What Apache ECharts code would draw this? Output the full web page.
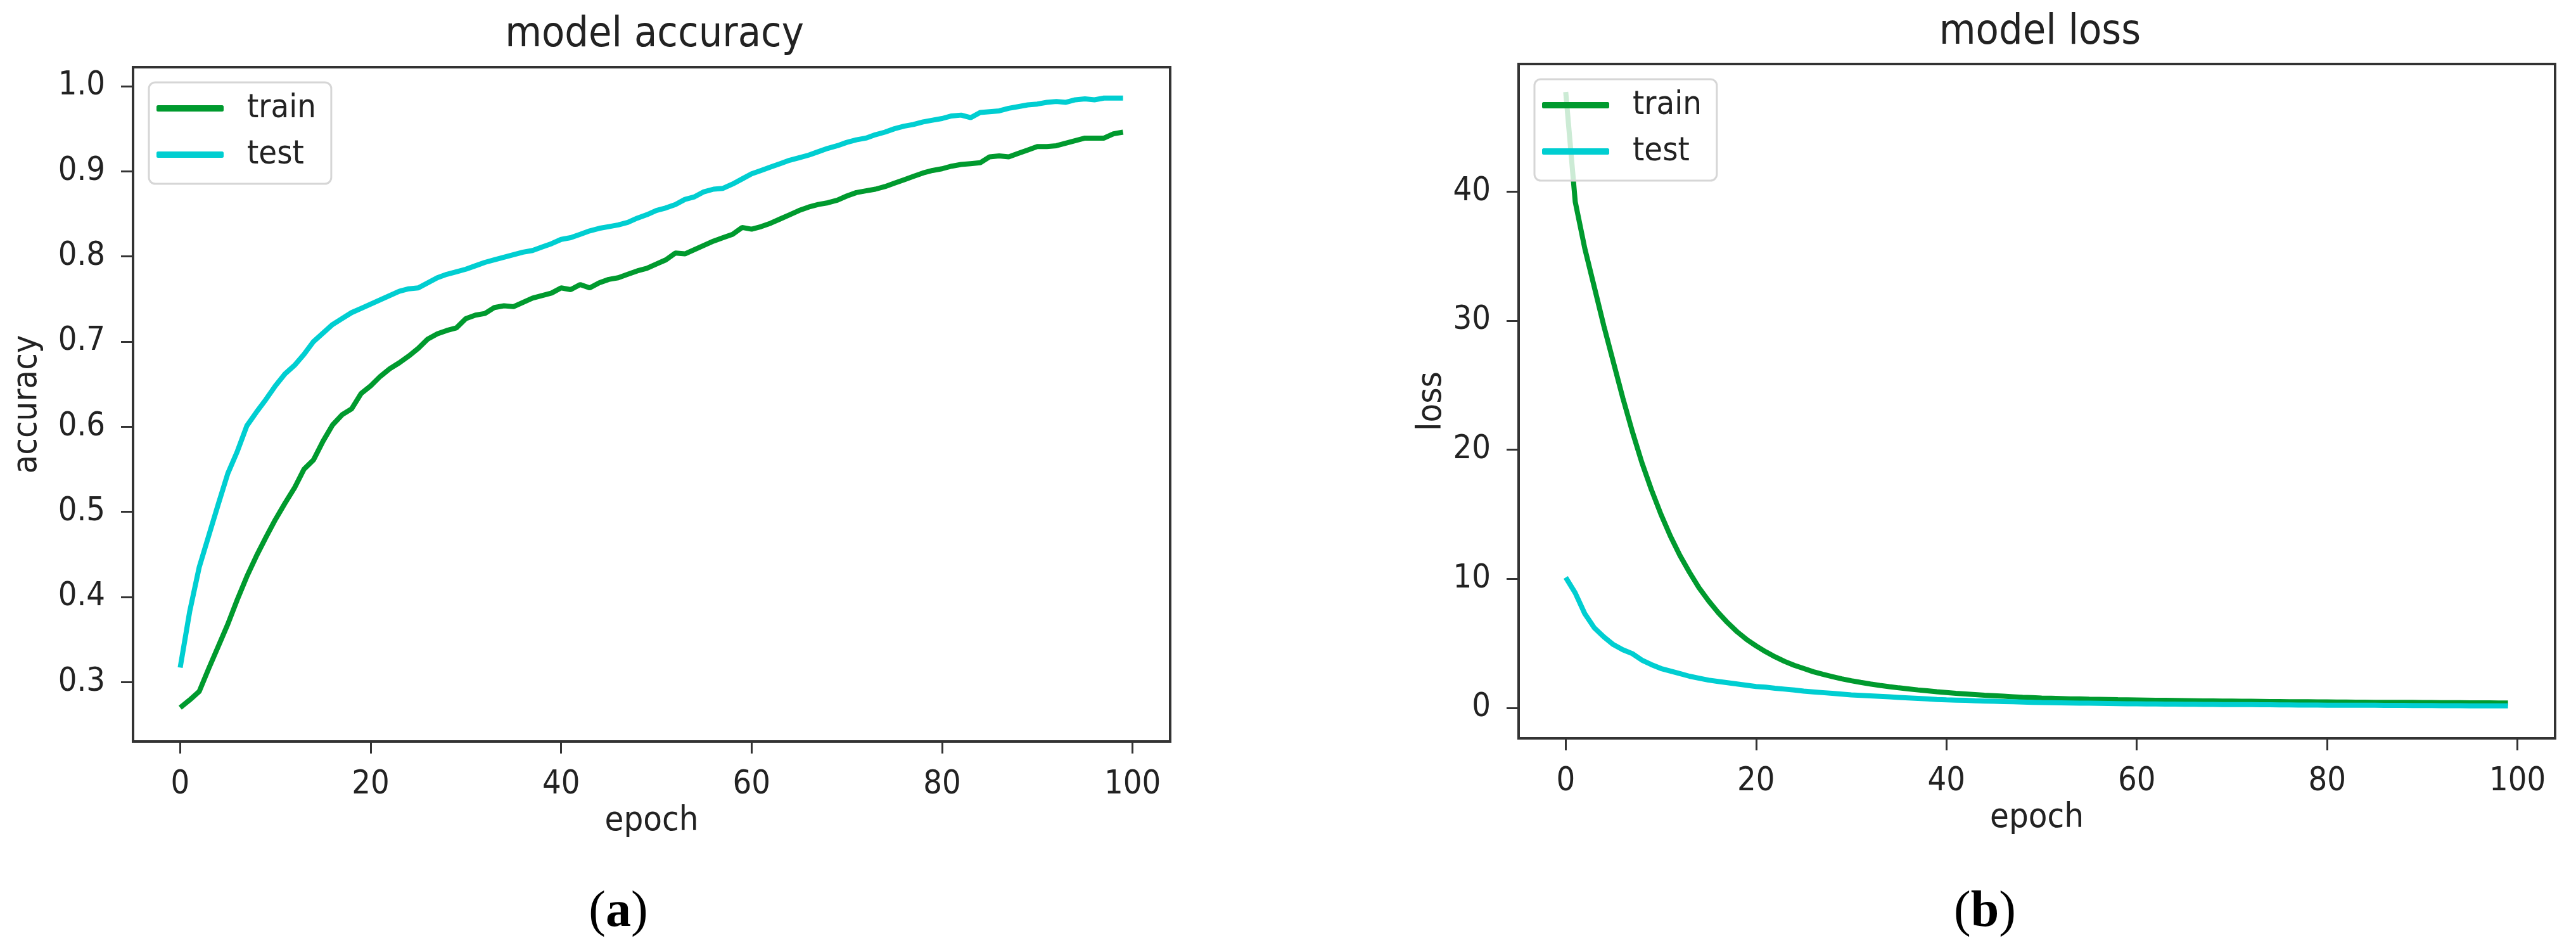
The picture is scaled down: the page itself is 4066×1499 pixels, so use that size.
<!DOCTYPE html>
<html>
<head>
<meta charset="utf-8">
<script src="https://cdn.jsdelivr.net/npm/echarts@6/dist/echarts.min.js"></script>
<style>
html,body{margin:0;padding:0;background:#fff;}
#c{width:4066px;height:1499px;}
</style>
</head>
<body>
<div id="c"></div>
<script>
// ---- data ----
const xTicks = [0, 20, 40, 60, 80, 100];
const accTicks = [0.3, 0.4, 0.5, 0.6, 0.7, 0.8, 0.9, 1.0];
const lossTicks = [0, 10, 20, 30, 40];

const accTrain = [
0.270,0.279,0.289,0.316,0.342,0.368,0.397,0.424,0.448,0.470,
0.491,0.510,0.528,0.550,0.561,0.583,0.602,0.614,0.621,0.639,
0.648,0.659,0.668,0.675,0.683,0.692,0.703,0.709,0.713,0.716,
0.727,0.731,0.733,0.740,0.742,0.741,0.746,0.751,0.754,0.757,
0.763,0.761,0.767,0.763,0.769,0.773,0.775,0.779,0.783,0.786,
0.791,0.796,0.804,0.803,0.808,0.813,0.818,0.822,0.826,0.834,
0.832,0.835,0.839,0.844,0.849,0.854,0.858,0.861,0.863,0.866,
0.871,0.875,0.877,0.879,0.882,0.886,0.890,0.894,0.898,0.901,
0.903,0.906,0.908,0.909,0.910,0.917,0.918,0.917,0.921,0.925,
0.929,0.929,0.930,0.933,0.936,0.939,0.939,0.939,0.944,0.946];

const accTest = [
0.317,0.383,0.435,0.472,0.509,0.545,0.571,0.601,0.617,0.632,
0.648,0.662,0.672,0.685,0.700,0.710,0.720,0.727,0.734,0.739,
0.744,0.749,0.754,0.759,0.762,0.763,0.769,0.775,0.779,0.782,
0.785,0.789,0.793,0.796,0.799,0.802,0.805,0.807,0.811,0.815,
0.820,0.822,0.826,0.830,0.833,0.835,0.837,0.840,0.845,0.849,
0.854,0.857,0.861,0.867,0.870,0.876,0.879,0.880,0.885,0.891,
0.897,0.901,0.905,0.909,0.913,0.916,0.919,0.923,0.927,0.930,
0.934,0.937,0.939,0.943,0.946,0.950,0.953,0.955,0.958,0.960,
0.962,0.965,0.966,0.963,0.969,0.970,0.971,0.974,0.976,0.978,
0.979,0.981,0.982,0.981,0.984,0.985,0.984,0.986,0.986,0.986];

const lossTrain = [
47.7,39.2,35.6,32.6,29.6,26.8,24.0,21.4,19.0,16.9,
15.0,13.3,11.8,10.5,9.3,8.3,7.4,6.6,5.9,5.3,
4.8,4.35,3.95,3.6,3.3,3.05,2.8,2.6,2.42,2.25,
2.1,1.97,1.85,1.74,1.64,1.55,1.47,1.39,1.32,1.25,
1.19,1.13,1.08,1.03,0.98,0.94,0.90,0.86,0.82,0.79,
0.76,0.74,0.72,0.70,0.69,0.67,0.66,0.65,0.63,0.62,
0.61,0.60,0.59,0.58,0.57,0.56,0.55,0.54,0.54,0.53,
0.52,0.51,0.51,0.50,0.49,0.49,0.48,0.47,0.47,0.46,
0.46,0.45,0.45,0.44,0.44,0.43,0.43,0.42,0.42,0.42,
0.41,0.41,0.40,0.40,0.40,0.39,0.39,0.39,0.38,0.38];

const lossTest = [
10.1,8.9,7.3,6.2,5.5,4.9,4.5,4.2,3.7,3.35,
3.05,2.85,2.65,2.45,2.3,2.15,2.05,1.95,1.85,1.75,
1.65,1.6,1.52,1.45,1.38,1.3,1.24,1.18,1.12,1.06,
1.0,0.97,0.93,0.89,0.85,0.81,0.77,0.73,0.69,0.65,
0.62,0.60,0.58,0.55,0.53,0.51,0.49,0.47,0.45,0.43,
0.41,0.40,0.39,0.38,0.37,0.36,0.35,0.34,0.33,0.32,
0.31,0.30,0.30,0.29,0.29,0.28,0.28,0.27,0.27,0.26,
0.26,0.25,0.25,0.24,0.24,0.23,0.23,0.22,0.22,0.22,
0.21,0.21,0.21,0.20,0.20,0.20,0.19,0.19,0.19,0.18,
0.18,0.18,0.17,0.17,0.17,0.16,0.16,0.16,0.15,0.15];

// ---- styling ----
const FONT = 'DejaVu Sans Condensed, DejaVu Sans, sans-serif';
const TXT = '#222';
const GREEN = '#009a2e';
const CYAN = '#00ced1';
const toPts = arr => arr.map((v, i) => [i, v]);

function xAxisFor(gi) {
  return {
    type: 'value', gridIndex: gi, min: -4.95, max: 103.95,
    axisLine: {show: false, onZero: false},
    splitLine: {show: false},
    axisTick: {show: true, length: 19, customValues: xTicks, lineStyle: {color: '#333', width: 3}},
    axisLabel: {customValues: xTicks, margin: 42, fontSize: 52, fontFamily: FONT, color: TXT},
    name: 'epoch', nameLocation: 'middle', nameGap: 98,
    nameTextStyle: {fontSize: 54, fontFamily: FONT, color: TXT}
  };
}
function yAxisFor(gi, mn, mx, ticks, name, gap, fmt) {
  return {
    type: 'value', gridIndex: gi, min: mn, max: mx,
    axisLine: {show: false, onZero: false},
    splitLine: {show: false},
    axisTick: {show: true, length: 19, customValues: ticks, lineStyle: {color: '#333', width: 3}},
    axisLabel: {customValues: ticks, margin: 44, fontSize: 52, fontFamily: FONT, color: TXT, formatter: fmt},
    name: name, nameLocation: 'middle', nameGap: gap, nameRotate: 90,
    nameTextStyle: {fontSize: 54, fontFamily: FONT, color: TXT}
  };
}
function legendFor(left, top) {
  return {
    data: ['train', 'test'], orient: 'vertical', left: left, top: top,
    icon: 'roundRect', itemWidth: 106, itemHeight: 10, itemGap: 21,
    padding: [15, 24, 20, 12],
    backgroundColor: 'rgba(255,255,255,0.8)', borderColor: '#d6d6d6', borderWidth: 3, borderRadius: 10,
    textStyle: {fontSize: 52, lineHeight: 52, fontFamily: FONT, color: TXT, padding: [0, 0, 0, 32]},
    selectedMode: false
  };
}
function lineSeries(name, data, color, xi, yi) {
  return {
    type: 'line', name: name, data: data, xAxisIndex: xi, yAxisIndex: yi,
    showSymbol: false, symbol: 'none', smooth: false,
    lineStyle: {color: color, width: 8}, itemStyle: {color: color},
    emphasis: {disabled: true}
  };
}
const capStyle = {fontSize: 80, fontWeight: 'normal', fontFamily: 'Liberation Serif', color: '#000',
  rich: {b: {fontSize: 80, fontWeight: 'bold', fontFamily: 'Liberation Serif', color: '#000'}}};

const chart = echarts.init(document.getElementById('c'), null, {renderer: 'canvas'});
chart.setOption({
  animation: false,
  backgroundColor: '#fff',
  title: [
    {text: 'model accuracy', left: 1028, top: 18, textAlign: 'center',
     textStyle: {fontSize: 66, fontWeight: 'normal', fontFamily: FONT, color: TXT}},
    {text: 'model loss', left: 3215, top: 14, textAlign: 'center',
     textStyle: {fontSize: 66, fontWeight: 'normal', fontFamily: FONT, color: TXT}},
    {text: '({b|a})', left: 971, top: 1395, textAlign: 'center', textStyle: capStyle},
    {text: '({b|b})', left: 3128, top: 1395, textAlign: 'center', textStyle: capStyle}
  ],
  legend: [legendFor(235, 130), legendFor(2422, 125)],
  grid: [
    {left: 210, top: 106, width: 1637, height: 1064, show: true, borderColor: '#333', borderWidth: 4, backgroundColor: 'transparent'},
    {left: 2397, top: 101, width: 1636, height: 1064, show: true, borderColor: '#333', borderWidth: 4, backgroundColor: 'transparent'}
  ],
  xAxis: [xAxisFor(0), xAxisFor(1)],
  yAxis: [
    yAxisFor(0, 0.2302, 1.0223, accTicks, 'accuracy', 140, v => v.toFixed(1)),
    yAxisFor(1, -2.36, 49.87, lossTicks, 'loss', 110, v => String(v))
  ],
  series: [
    lineSeries('train', toPts(accTrain), GREEN, 0, 0),
    lineSeries('test', toPts(accTest), CYAN, 0, 0),
    lineSeries('train', toPts(lossTrain), GREEN, 1, 1),
    lineSeries('test', toPts(lossTest), CYAN, 1, 1)
  ]
});
</script>
</body>
</html>
